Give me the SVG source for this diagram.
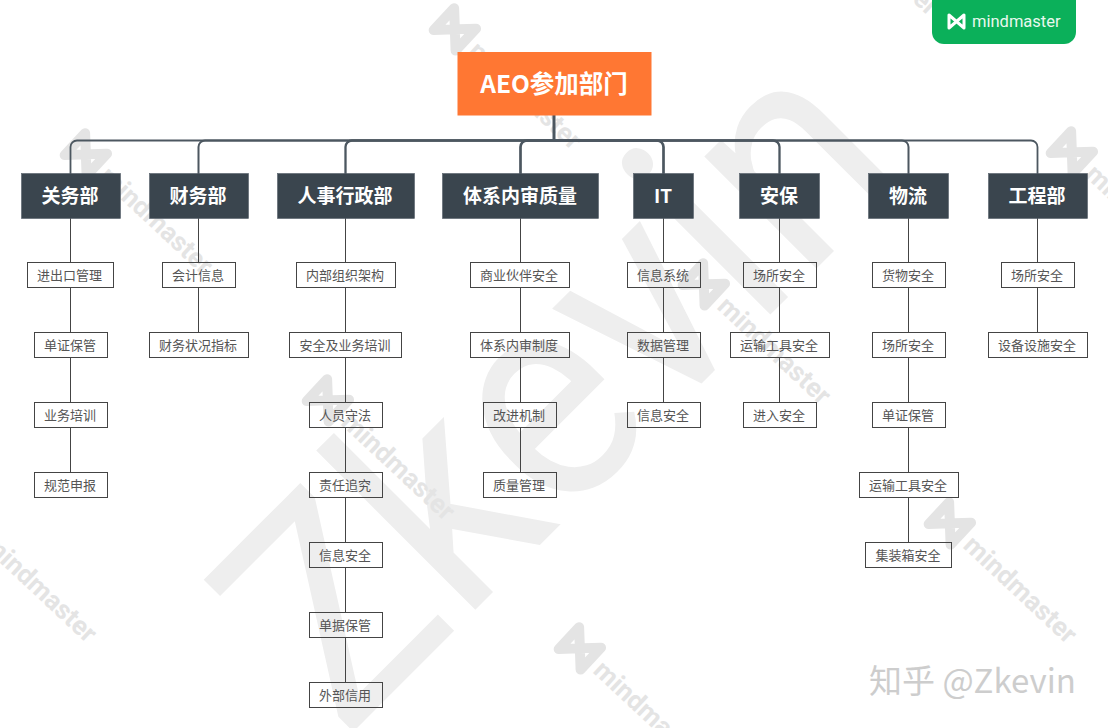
<svg xmlns="http://www.w3.org/2000/svg" width="1108" height="728" viewBox="0 0 1108 728">
<style>
.cjk{font-family:"Noto Sans CJK SC","Noto Sans",sans-serif;text-anchor:middle}
.root rect{fill:#ff7733}
.root text{fill:#fff;font-size:24.500px;font-weight:700}
.top rect{fill:#3a454e;stroke:#55606a;stroke-width:.6}
.top text{fill:#fff;font-size:19px;font-weight:700}
.sub rect{fill:none;stroke:#444;stroke-width:1}
.sub text{fill:#555;font-size:13px}
.bus{fill:none;stroke:#4c5760}
.stem{stroke:#444;stroke-width:1}
.big{font-family:Roboto,sans-serif;font-size:300px;font-weight:400;fill:#eeeeee}
.wm{font-family:Roboto,sans-serif;font-size:26.500px;font-weight:700;fill:#e4e4e4}
.wmi{fill:none;stroke:#e4e4e4;stroke-width:10;stroke-linejoin:round;stroke-linecap:round}
</style>
<defs>
<g id="mark"><path class="wmi" d="M-40 -24V6L-10 -24V6Z"/><text class="wm" x="0" y="0">mindmaster</text></g>
</defs>
<rect width="1108" height="728" fill="#fff"/>
<g id="watermark">
<text class="big" transform="translate(345 740) rotate(-45)" textLength="800" lengthAdjust="spacingAndGlyphs">Zkevin</text>
<use href="#mark" transform="translate(98 178) rotate(43)"/>
<use href="#mark" transform="translate(467 53) rotate(43)"/>
<use href="#mark" transform="translate(1084 176) rotate(43)"/>
<use href="#mark" transform="translate(716 308) rotate(43)"/>
<use href="#mark" transform="translate(340 424) rotate(43)"/>
<use href="#mark" transform="translate(-18 546) rotate(43)"/>
<use href="#mark" transform="translate(962 547) rotate(43)"/>
<use href="#mark" transform="translate(592 672) rotate(43)"/>
<use href="#mark" transform="translate(824 -81) rotate(43)"/>
</g>
<g id="connectors">
<path class="bus" stroke-width="3" d="M554 115V140.5"/>
<path class="bus" stroke-width="1.8" d="M554 140.5H77a6.500 6.500 0 0 0-6.500 6.500V174"/>
<path class="bus" stroke-width="2" d="M554 140.500H205a6.500 6.500 0 0 0-6.500 6.500V174"/>
<path class="bus" stroke-width="2.300" d="M554 140.500H352a6.500 6.500 0 0 0-6.500 6.500V174"/>
<path class="bus" stroke-width="2.700" d="M554 140.500H527a6.500 6.500 0 0 0-6.500 6.500V174"/>
<path class="bus" stroke-width="2.700" d="M554 140.500H657a6.500 6.500 0 0 1 6.500 6.500V174"/>
<path class="bus" stroke-width="2.300" d="M554 140.500H773a6.500 6.500 0 0 1 6.500 6.500V174"/>
<path class="bus" stroke-width="2" d="M554 140.500H902a6.500 6.500 0 0 1 6.500 6.500V174"/>
<path class="bus" stroke-width="1.800" d="M554 140.500H1031a6.500 6.500 0 0 1 6.500 6.500V174"/>
<path class="stem" d="M70.500 218V262M70.500 287.500V332M70.500 357.500V402M70.500 427.500V472"/>
<path class="stem" d="M198.500 218V262M198.500 287.500V332"/>
<path class="stem" d="M345.500 218V262M345.500 287.500V332M345.500 357.500V402M345.500 427.500V472M345.500 497.500V542M345.500 567.500V612M345.500 637.500V682"/>
<path class="stem" d="M520.500 218V262M520.500 287.500V332M520.500 357.500V402M520.500 427.500V472"/>
<path class="stem" d="M663.500 218V262M663.500 287.500V332M663.500 357.500V402"/>
<path class="stem" d="M779.500 218V262M779.500 287.500V332M779.500 357.500V402"/>
<path class="stem" d="M908.500 218V262M908.500 287.500V332M908.500 357.500V402M908.500 427.500V472M908.500 497.500V542"/>
<path class="stem" d="M1037.500 218V262M1037.500 287.500V332"/>
</g>
<g id="root" class="root"><rect x="457.500" y="52" width="194" height="63.500"/><text class="cjk" x="554" y="93">AEO参加部门</text></g>
<g id="t1" class="top"><rect x="21.500" y="173.500" width="99" height="45"/><text class="cjk" x="70" y="203">关务部</text></g>
<g id="t2" class="top"><rect x="149.500" y="173.500" width="99" height="45"/><text class="cjk" x="198" y="203">财务部</text></g>
<g id="t3" class="top"><rect x="277.500" y="173.500" width="137" height="45"/><text class="cjk" x="345" y="203">人事行政部</text></g>
<g id="t4" class="top"><rect x="442.500" y="173.500" width="156" height="45"/><text class="cjk" x="520" y="203">体系内审质量</text></g>
<g id="t5" class="top"><rect x="633.500" y="173.500" width="60" height="45"/><text class="cjk" x="663" y="203">IT</text></g>
<g id="t6" class="top"><rect x="739.500" y="173.500" width="80" height="45"/><text class="cjk" x="779" y="203">安保</text></g>
<g id="t7" class="top"><rect x="868.500" y="173.500" width="80" height="45"/><text class="cjk" x="908" y="203">物流</text></g>
<g id="t8" class="top"><rect x="988.500" y="173.500" width="99" height="45"/><text class="cjk" x="1037" y="203">工程部</text></g>
<g id="a1" class="sub"><rect x="27.500" y="262.500" width="86" height="25"/><text class="cjk" x="69.500" y="279.500">进出口管理</text></g>
<g id="a2" class="sub"><rect x="34.500" y="332.500" width="73" height="25"/><text class="cjk" x="70" y="349.500">单证保管</text></g>
<g id="a3" class="sub"><rect x="34.500" y="402.500" width="73" height="25"/><text class="cjk" x="70" y="419.500">业务培训</text></g>
<g id="a4" class="sub"><rect x="34.500" y="472.500" width="73" height="25"/><text class="cjk" x="70" y="489.500">规范申报</text></g>
<g id="b1" class="sub"><rect x="162.500" y="262.500" width="73" height="25"/><text class="cjk" x="198" y="279.500">会计信息</text></g>
<g id="b2" class="sub"><rect x="149.500" y="332.500" width="99" height="25"/><text class="cjk" x="198" y="349.500">财务状况指标</text></g>
<g id="c1" class="sub"><rect x="296.500" y="262.500" width="99" height="25"/><text class="cjk" x="345" y="279.500">内部组织架构</text></g>
<g id="c2" class="sub"><rect x="289.500" y="332.500" width="112" height="25"/><text class="cjk" x="345" y="349.500">安全及业务培训</text></g>
<g id="c3" class="sub"><rect x="309.500" y="402.500" width="73" height="25"/><text class="cjk" x="345" y="419.500">人员守法</text></g>
<g id="c4" class="sub"><rect x="309.500" y="472.500" width="73" height="25"/><text class="cjk" x="345" y="489.500">责任追究</text></g>
<g id="c5" class="sub"><rect x="309.500" y="542.500" width="73" height="25"/><text class="cjk" x="345" y="559.500">信息安全</text></g>
<g id="c6" class="sub"><rect x="309.500" y="612.500" width="73" height="25"/><text class="cjk" x="345" y="629.500">单据保管</text></g>
<g id="c7" class="sub"><rect x="309.500" y="682.500" width="73" height="25"/><text class="cjk" x="345" y="699.500">外部信用</text></g>
<g id="d1" class="sub"><rect x="470.500" y="262.500" width="99" height="25"/><text class="cjk" x="519" y="279.500">商业伙伴安全</text></g>
<g id="d2" class="sub"><rect x="470.500" y="332.500" width="99" height="25"/><text class="cjk" x="519" y="349.500">体系内审制度</text></g>
<g id="d3" class="sub"><rect x="483.500" y="402.500" width="73" height="25"/><text class="cjk" x="519" y="419.500">改进机制</text></g>
<g id="d4" class="sub"><rect x="483.500" y="472.500" width="73" height="25"/><text class="cjk" x="519" y="489.500">质量管理</text></g>
<g id="e1" class="sub"><rect x="627.500" y="262.500" width="73" height="25"/><text class="cjk" x="663" y="279.500">信息系统</text></g>
<g id="e2" class="sub"><rect x="627.500" y="332.500" width="73" height="25"/><text class="cjk" x="663" y="349.500">数据管理</text></g>
<g id="e3" class="sub"><rect x="627.500" y="402.500" width="73" height="25"/><text class="cjk" x="663" y="419.500">信息安全</text></g>
<g id="f1" class="sub"><rect x="743.500" y="262.500" width="73" height="25"/><text class="cjk" x="779" y="279.500">场所安全</text></g>
<g id="f2" class="sub"><rect x="730.500" y="332.500" width="99" height="25"/><text class="cjk" x="779" y="349.500">运输工具安全</text></g>
<g id="f3" class="sub"><rect x="743.500" y="402.500" width="73" height="25"/><text class="cjk" x="779" y="419.500">进入安全</text></g>
<g id="g1" class="sub"><rect x="872.500" y="262.500" width="73" height="25"/><text class="cjk" x="908" y="279.500">货物安全</text></g>
<g id="g2" class="sub"><rect x="872.500" y="332.500" width="73" height="25"/><text class="cjk" x="908" y="349.500">场所安全</text></g>
<g id="g3" class="sub"><rect x="872.500" y="402.500" width="73" height="25"/><text class="cjk" x="908" y="419.500">单证保管</text></g>
<g id="g4" class="sub"><rect x="859.500" y="472.500" width="99" height="25"/><text class="cjk" x="908" y="489.500">运输工具安全</text></g>
<g id="g5" class="sub"><rect x="865.500" y="542.500" width="86" height="25"/><text class="cjk" x="908" y="559.500">集装箱安全</text></g>
<g id="h1" class="sub"><rect x="1001.500" y="262.500" width="73" height="25"/><text class="cjk" x="1037" y="279.500">场所安全</text></g>
<g id="h2" class="sub"><rect x="988.500" y="332.500" width="99" height="25"/><text class="cjk" x="1037" y="349.500">设备设施安全</text></g>
<g id="badge"><path d="M932 -1H1076V32a12 12 0 0 1-12 12H944a12 12 0 0 1-12-12Z" fill="#0bb05a"/><path d="M949 15V28L964 15V28Z" fill="none" stroke="#fff" stroke-width="3" stroke-linejoin="round"/><text x="972" y="27" font-family="Roboto,sans-serif" font-size="16.500" fill="#e8f8ee">mindmaster</text></g>
<text id="credit" x="869" y="693" font-family="&quot;Noto Sans CJK SC&quot;,&quot;Noto Sans&quot;,sans-serif" font-size="33" fill="#cdcdcd">知乎 @Zkevin</text>
</svg>
